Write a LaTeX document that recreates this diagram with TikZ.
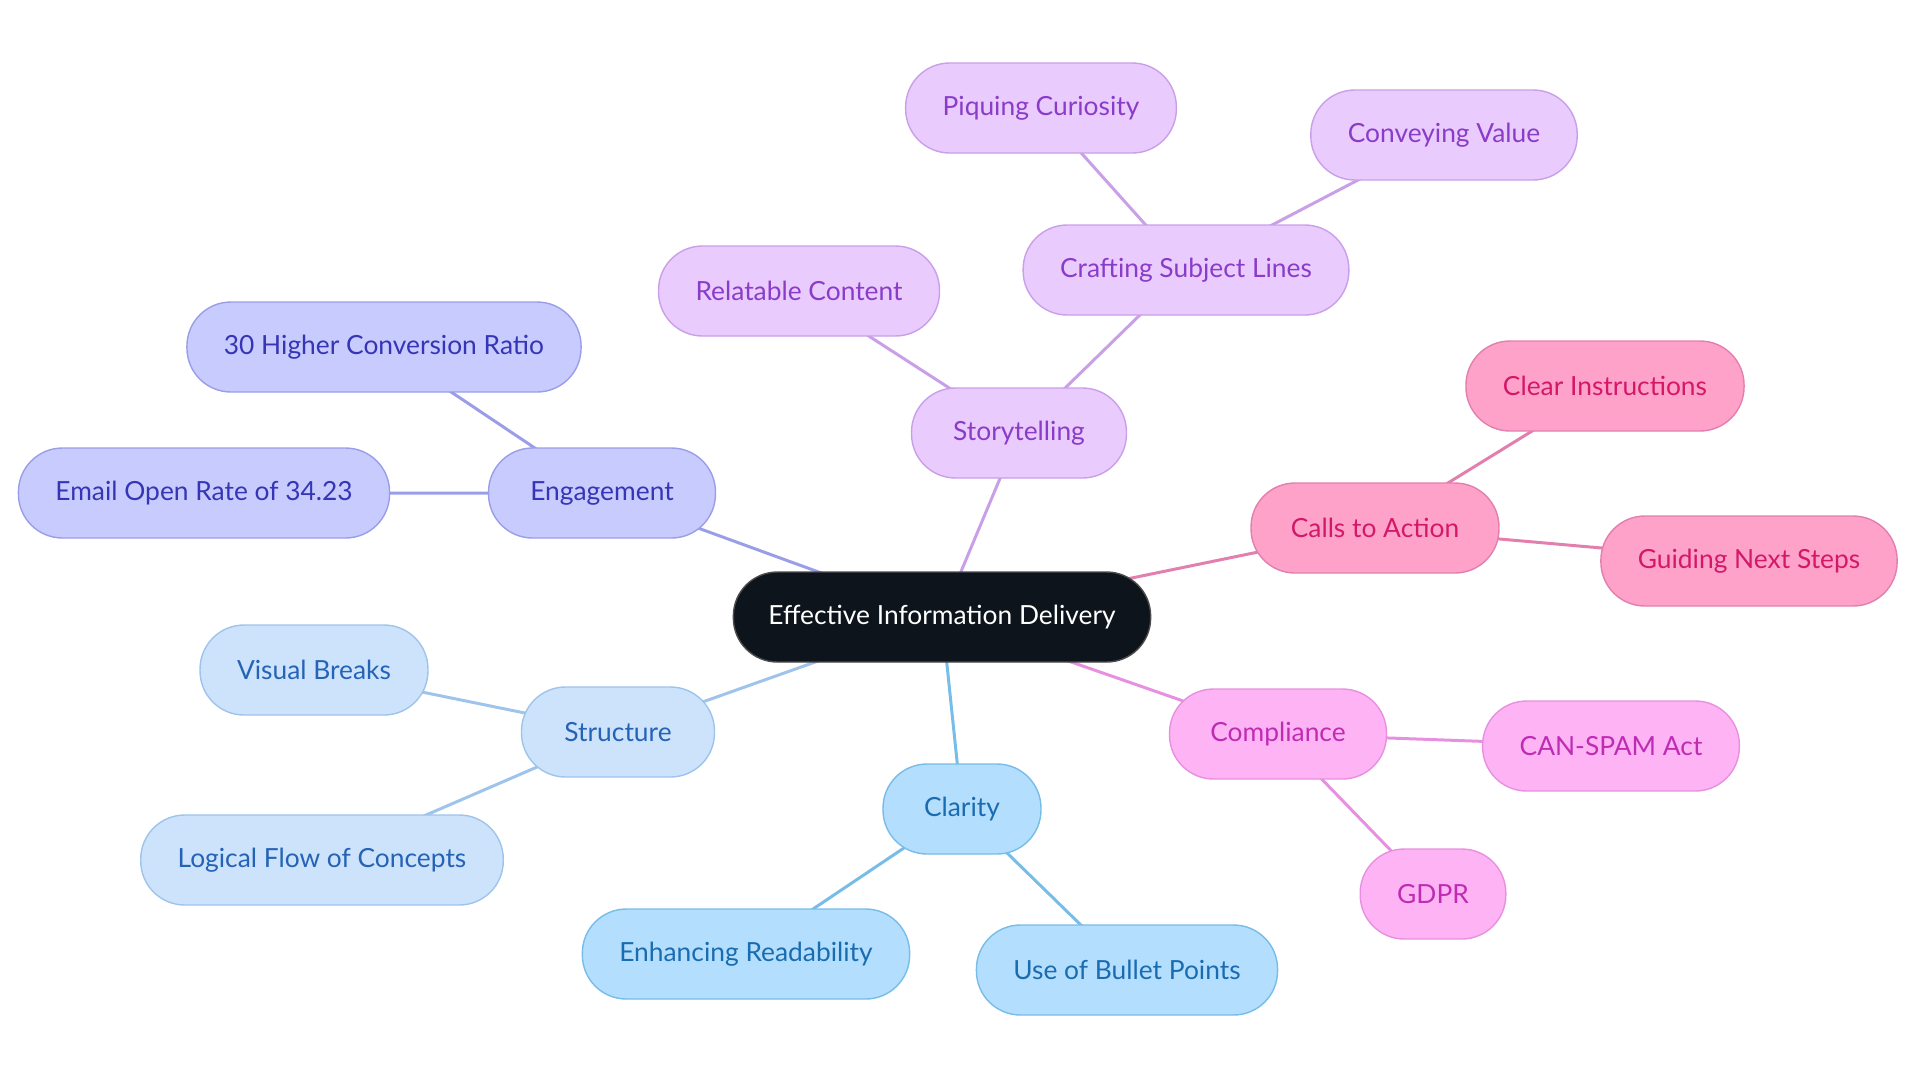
\documentclass[tikz,border=0pt]{standalone}
\usepackage{fontspec}
\setmainfont{Lato}
\usetikzlibrary{positioning,backgrounds}

\definecolor{centfill}{HTML}{0D141C}
\definecolor{engfill}{HTML}{C8CBFE}\definecolor{engtext}{HTML}{3535B5}\definecolor{engline}{HTML}{9A9EE8}
\definecolor{stofill}{HTML}{E9CBFE}\definecolor{stotext}{HTML}{8A3CC8}\definecolor{stoline}{HTML}{C9A0E8}
\definecolor{calfill}{HTML}{FEA2CA}\definecolor{caltext}{HTML}{D41868}\definecolor{calline}{HTML}{E37FAE}
\definecolor{comfill}{HTML}{FEB3F4}\definecolor{comtext}{HTML}{BE2CB4}\definecolor{comline}{HTML}{E890E0}
\definecolor{clafill}{HTML}{B3DEFE}\definecolor{clatext}{HTML}{1A6CB0}\definecolor{claline}{HTML}{78BCE8}
\definecolor{strfill}{HTML}{CDE3FC}\definecolor{strtext}{HTML}{2463B5}\definecolor{strline}{HTML}{9EC4EC}

\tikzset{
  pill/.style={rounded corners=0.88cm, minimum height=1.8cm, inner xsep=0.74cm,
    font=\fontsize{15}{18}\selectfont, line width=0.8pt},
  central/.style={pill, fill=centfill, draw=black!70, text=white, inner xsep=0.7cm},
  eng/.style={pill, fill=engfill, draw=engline, text=engtext},
  sto/.style={pill, fill=stofill, draw=stoline, text=stotext},
  cal/.style={pill, fill=calfill, draw=calline, text=caltext},
  com/.style={pill, fill=comfill, draw=comline, text=comtext},
  cla/.style={pill, fill=clafill, draw=claline, text=clatext},
  str/.style={pill, fill=strfill, draw=strline, text=strtext},
  link/.style={line width=1.7pt}
}

\begin{document}
\begin{tikzpicture}[x=0.02cm,y=-0.02cm]
\useasboundingbox (0,0) rectangle (1920,1083);

\node[central] (root) at (942,617) {Effective Information Delivery};

\node[eng,minimum width=4.54cm] (engage) at (602,493) {Engagement};
\node[eng] (conv)   at (384,347) {30 Higher Conversion Ratio};
\node[eng] (open)   at (204,493) {Email Open Rate of 34.23};

\node[sto,minimum width=4.3cm] (story) at (1019,433) {Storytelling};
\node[sto] (relate)  at (799,291)  {Relatable Content};
\node[sto] (subject) at (1186,270) {Crafting Subject Lines};
\node[sto] (pique)   at (1041,108) {Piquing Curiosity};
\node[sto] (value)   at (1444,135) {Conveying Value};

\node[cal,minimum width=4.96cm] (calls) at (1375,528) {Calls to Action};
\node[cal] (clear) at (1605,386) {Clear Instructions};
\node[cal] (guide) at (1749,561) {Guiding Next Steps};

\node[com,minimum width=4.34cm] (comply) at (1278,734) {Compliance};
\node[com] (spam)   at (1611,746) {CAN-SPAM Act};
\node[com] (gdpr)   at (1433,894) {GDPR};

\node[cla,minimum width=3.16cm] (clarity) at (962,809) {Clarity};
\node[cla] (read)    at (746,954)  {Enhancing Readability};
\node[cla] (bullet)  at (1127,970) {Use of Bullet Points};

\node[str,minimum width=3.86cm] (struct) at (618,732) {Structure};
\node[str] (visual) at (314,670) {Visual Breaks};
\node[str] (flow)   at (322,860) {Logical Flow of Concepts};

% connectors behind the pills
\begin{scope}[on background layer]
\draw[link,engline] (root.center) -- (engage.center) (engage.center) -- (conv.center) (engage.center) -- (open.center);
\draw[link,stoline] (root.center) -- (story.center) (story.center) -- (relate.center) (story.center) -- (subject.center)
  (subject.center) -- (pique.center) (subject.center) -- (value.center);
\draw[link,calline] (root.center) -- (calls.center) (calls.center) -- (clear.center) (calls.center) -- (guide.center);
\draw[link,comline] (root.center) -- (comply.center) (comply.center) -- (spam.center) (comply.center) -- (gdpr.center);
\draw[link,claline] (root.center) -- (clarity.center) (clarity.center) -- (read.center) (clarity.center) -- (bullet.center);
\draw[link,strline] (root.center) -- (struct.center) (struct.center) -- (visual.center) (struct.center) -- (flow.center);
\end{scope}
\end{tikzpicture}
\end{document}
